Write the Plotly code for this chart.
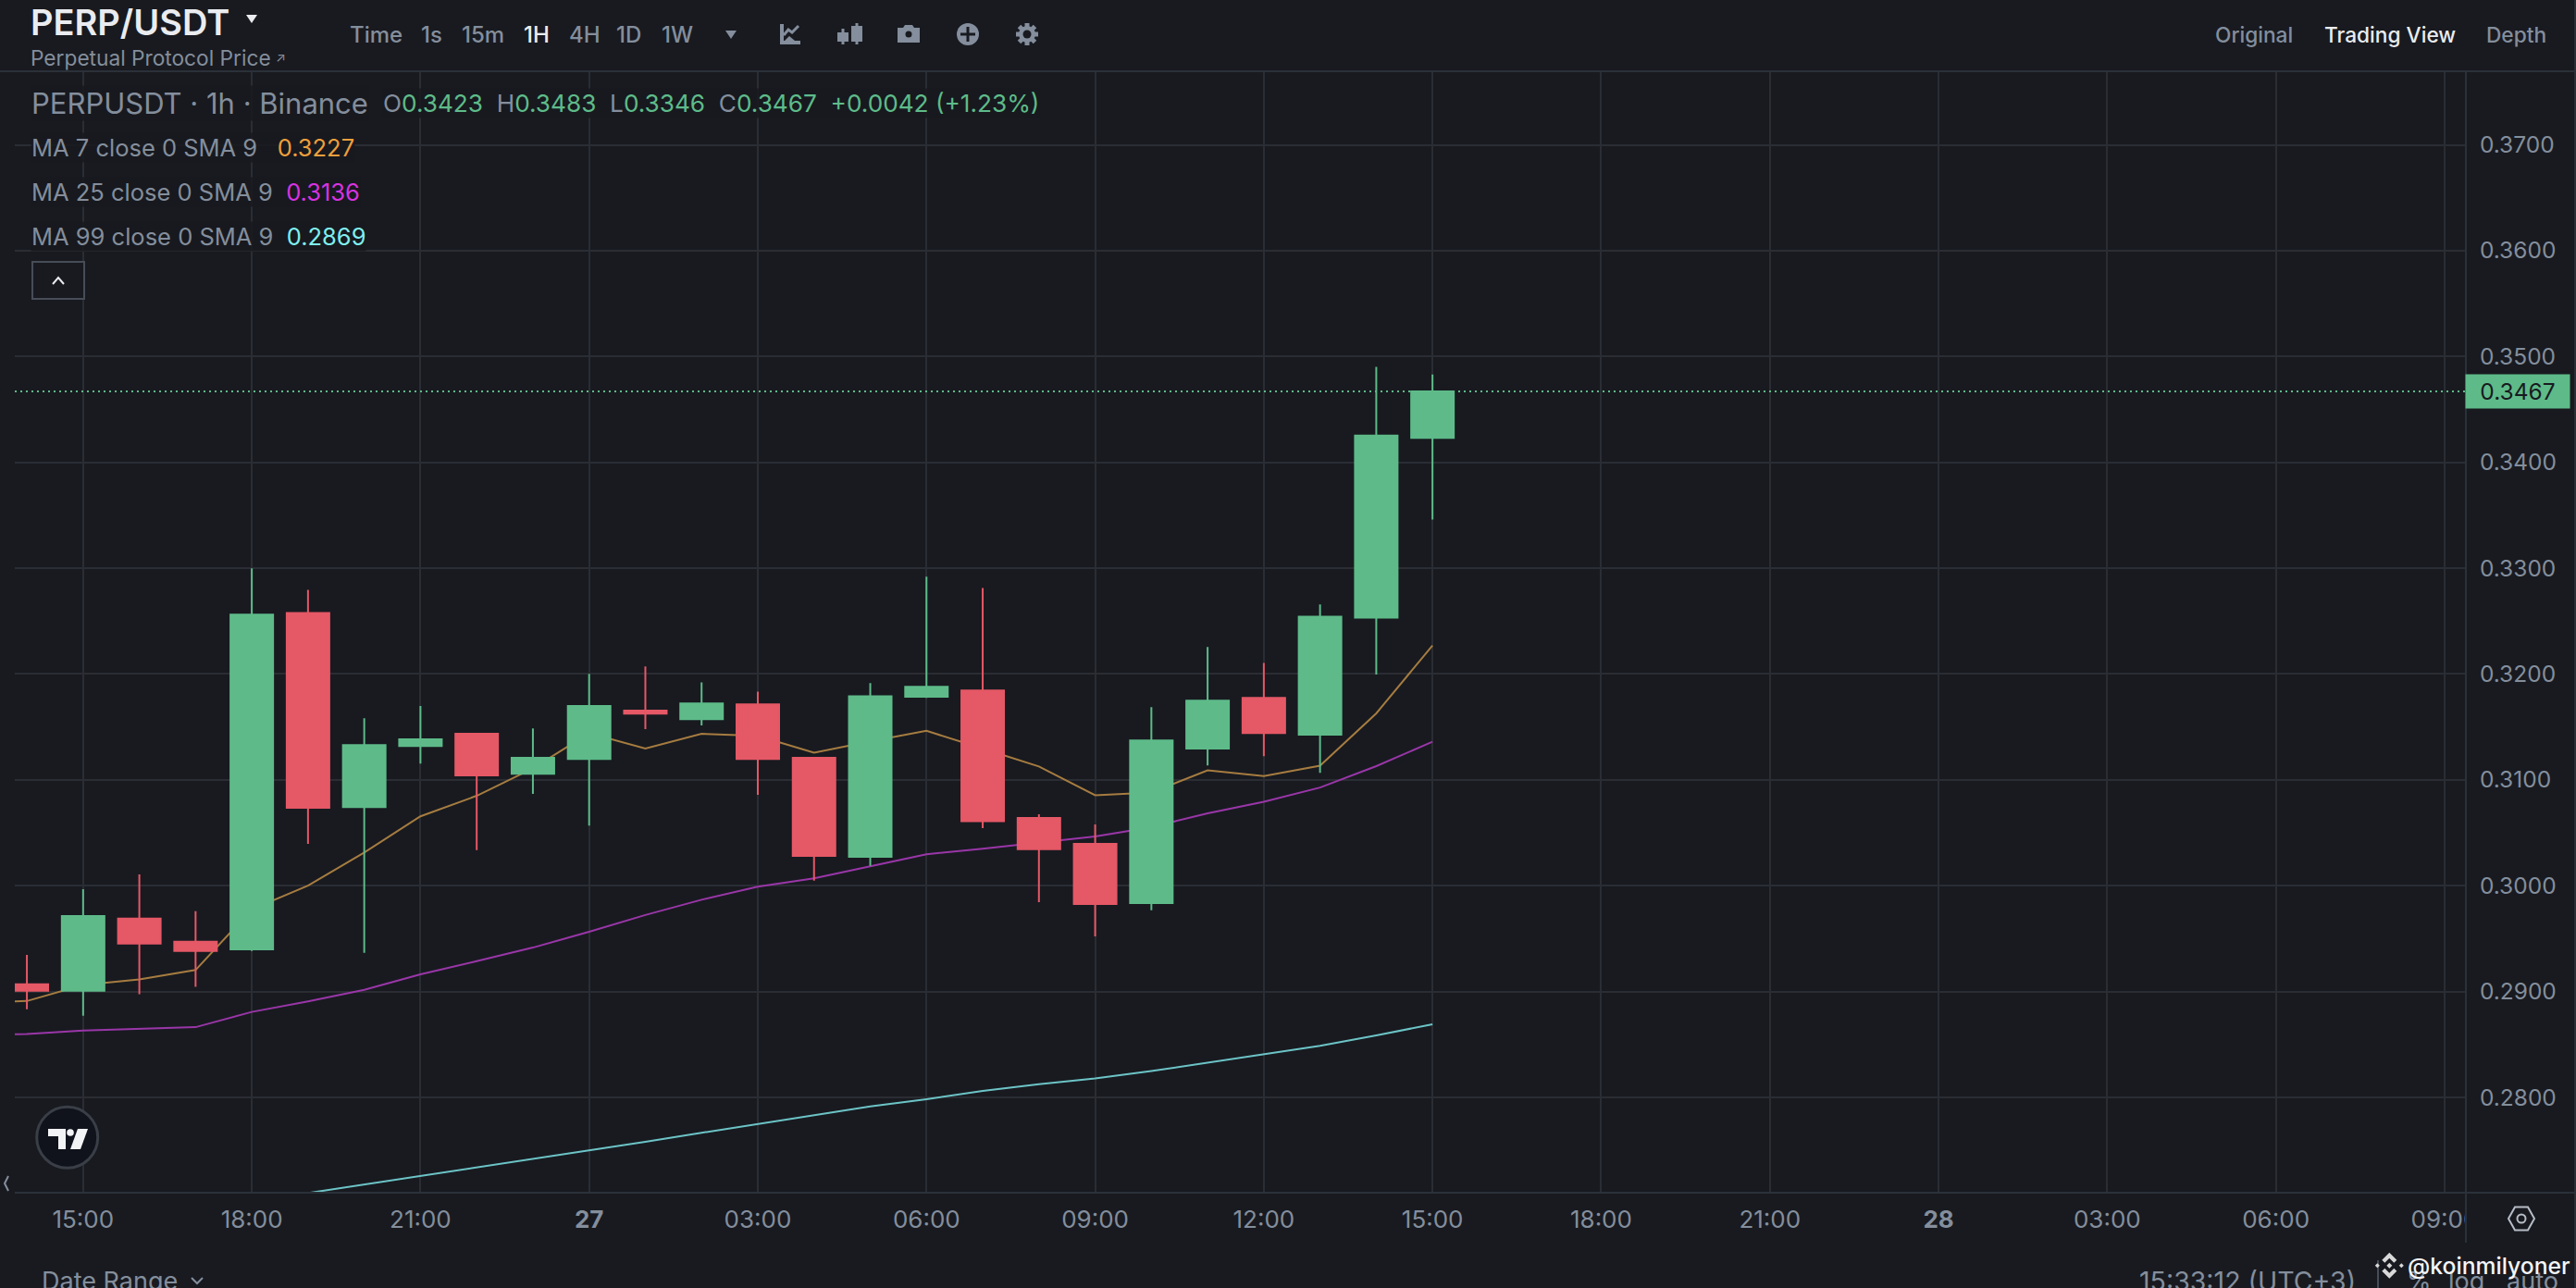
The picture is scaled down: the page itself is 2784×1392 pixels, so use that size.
import plotly.graph_objects as go

# ============================================================
# DATA (hours counted from 00:00 on the 26th)
# ============================================================

candle_hours = list(range(14, 40))
opens = [0.29069, 0.29006, 0.29689, 0.29471, 0.29399, 0.32576, 0.30743, 0.3132, 0.31435,
         0.31058, 0.31198, 0.31653, 0.31572, 0.31712, 0.31207, 0.30272, 0.31784, 0.31843,
         0.3064, 0.30394, 0.29836, 0.31295, 0.31775, 0.31426, 0.32532, 0.3423]
highs = [0.29346, 0.29966, 0.30107, 0.29758, 0.32997, 0.32794, 0.31581, 0.31697, 0.31435,
         0.31485, 0.32002, 0.32071, 0.31921, 0.31834, 0.31207, 0.31915, 0.32919, 0.32813,
         0.30674, 0.30578, 0.31687, 0.32255, 0.32105, 0.32657, 0.34901, 0.3483]
lows = [0.28832, 0.28772, 0.28975, 0.29044, 0.29383, 0.30394, 0.29365, 0.31154, 0.30337,
        0.30867, 0.30568, 0.31479, 0.31513, 0.30858, 0.30048, 0.30188, 0.31775, 0.30543,
        0.29845, 0.29521, 0.29767, 0.31136, 0.31223, 0.31067, 0.31995, 0.3346]
closes = [0.29006, 0.29714, 0.29452, 0.29383, 0.3256, 0.30737, 0.31329, 0.31382, 0.31042,
          0.31207, 0.31697, 0.31625, 0.31722, 0.31198, 0.30281, 0.3179, 0.31878, 0.30609,
          0.30344, 0.29826, 0.31373, 0.31747, 0.31441, 0.32542, 0.34253, 0.3467]

ma_hours = list(range(13, 40))
ma7 = [0.28897, 0.2891, 0.29062, 0.29115, 0.29203, 0.29776, 0.30001, 0.30313, 0.30655,
       0.30849, 0.31108, 0.31441, 0.31295, 0.31435, 0.31416, 0.31257, 0.31363, 0.31463,
       0.31295, 0.31126, 0.30855, 0.3088, 0.31089, 0.31036, 0.31133, 0.31628, 0.3227]
ma25 = [0.28585, 0.28598, 0.28632, 0.28648, 0.28663, 0.28807, 0.28906, 0.29016, 0.29162,
        0.29287, 0.29415, 0.29564, 0.29723, 0.29867, 0.29991, 0.30069, 0.30185, 0.30297,
        0.3035, 0.30406, 0.30465, 0.30553, 0.30684, 0.30793, 0.30927, 0.31129, 0.3136]

ma99_hours = list(range(18, 40))
ma99 = [0.27015, 0.27095, 0.27175, 0.27254, 0.27335, 0.27415, 0.27496, 0.2758, 0.27665,
        0.27749, 0.2783, 0.27915, 0.27983, 0.28061, 0.28125, 0.28178, 0.28248, 0.28327,
        0.28408, 0.28487, 0.28586, 0.2869]

x_ticks = list(range(15, 58, 3))
x_labels = ["15:00", "18:00", "21:00", "<b>27</b>", "03:00", "06:00", "09:00", "12:00", "15:00",
            "18:00", "21:00", "<b>28</b>", "03:00", "06:00", "09:00"]
y_ticks = [0.28, 0.29, 0.30, 0.31, 0.32, 0.33, 0.34, 0.35, 0.36, 0.37]
y_labels = ["0.2800", "0.2900", "0.3000", "0.3100", "0.3200", "0.3300", "0.3400", "0.3500", "0.3600", "0.3700"]

last_price = 0.3467

# ============================================================
# COLOURS AND PIXEL HELPERS
# ============================================================

W, H = 2784, 1392
BG = "#181A20"
GRID = "#2A2D33"
BORDER = "#2B3139"
GREEN = "#5EBB89"
RED = "#E55866"
GREY = "#848E9C"
FONT = "Inter"

X_RANGE = [13.785, 57.38]
Y_RANGE = [0.27099, 0.37695]


def fx(x):
    return x / W


def fy(y):
    return 1 - y / H


shapes = []
annotations = []


def txt(x, y, s, size=24, color=GREY, anchor="left", weight=400, bg=None):
    annotations.append(dict(x=fx(x), y=fy(y), xref="paper", yref="paper", text=s, showarrow=False,
                            xanchor=anchor, yanchor="middle", align="left", borderpad=0,
                            bgcolor=bg, font=dict(family=FONT, size=size, color=color, weight=weight)))


def line(x0, y0, x1, y1, color=BORDER, width=2):
    shapes.append(dict(type="line", xref="paper", yref="paper", x0=fx(x0), y0=fy(y0), x1=fx(x1), y1=fy(y1),
                       line=dict(color=color, width=width), layer="above"))


def rect(x0, y0, x1, y1, fill=BG, color=None, width=0):
    shapes.append(dict(type="rect", xref="paper", yref="paper", x0=fx(x0), y0=fy(y0), x1=fx(x1), y1=fy(y1),
                       fillcolor=fill, line=dict(color=color or fill, width=width), layer="above"))


def circle(cx, cy, r, fill=BG, color=None, width=0):
    shapes.append(dict(type="circle", xref="paper", yref="paper", x0=fx(cx - r), y0=fy(cy - r),
                       x1=fx(cx + r), y1=fy(cy + r), fillcolor=fill,
                       line=dict(color=color or fill, width=width), layer="above"))


def poly(points, fill=GREY, color=None, width=0, closed=True):
    d = "M" + " L".join(f"{fx(a):.6f},{fy(b):.6f}" for a, b in points) + (" Z" if closed else "")
    shapes.append(dict(type="path", xref="paper", yref="paper", path=d, fillcolor=fill if closed else None,
                       line=dict(color=color or fill, width=width), layer="above"))


# ============================================================
# TRACES
# ============================================================

fig = go.Figure()

# moving averages live on the lower subplot so that candles cover them
fig.add_trace(go.Scatter(x=ma_hours, y=ma7, mode="lines", line=dict(color="#A67C40", width=2)))
fig.add_trace(go.Scatter(x=ma_hours, y=ma25, mode="lines", line=dict(color="#9A36A8", width=2)))
fig.add_trace(go.Scatter(x=ma99_hours, y=ma99, mode="lines", line=dict(color="#6CC4C6", width=2)))

fig.add_trace(go.Candlestick(
    x=candle_hours, open=opens, high=highs, low=lows, close=closes,
    xaxis="x2", yaxis="y2",
    increasing=dict(fillcolor=GREEN, line=dict(color=GREEN, width=2)),
    decreasing=dict(fillcolor=RED, line=dict(color=RED, width=2)),
))

fig.add_trace(go.Scatter(x=X_RANGE, y=[last_price, last_price], mode="lines", xaxis="x2", yaxis="y2",
                         line=dict(color=GREEN, width=2, dash="2px,4px")))

# ============================================================
# CHROME
# ============================================================

line(0, 77, W, 77)
line(16, 1289, W, 1289)
rect(2666, 1290, W, 1343)
line(2665, 77, 2665, 1343)
line(2783, 0, 2783, H, color="#2B2F36")

# header
txt(32, 24, "PERP/USDT", size=38, color="#EAECEF", weight=600)
poly([(266, 16), (278, 16), (272, 25)], fill="#EAECEF")
txt(32, 63, "Perpetual Protocol Price", size=22.7)
txt(297, 61, "↗", size=14)

for x_txt, label, col in [(377, "Time", GREY), (454, "1s", GREY), (498, "15m", GREY), (565, "1H", "#EAECEF"),
                          (614, "4H", GREY), (665, "1D", GREY), (714, "1W", GREY)]:
    txt(x_txt, 38, label, size=24, color=col, weight=500)
poly([(784, 33), (796, 33), (790, 42)])

# toolbar icons
rect(843, 26, 847, 48, fill=GREY)
rect(843, 44, 865, 48, fill=GREY)
poly([(847, 38), (852, 32), (856, 35), (863, 28)], fill=None, color=GREY, width=3, closed=False)
poly([(853, 39), (859, 44), (848, 44)])
line(911, 31, 911, 48, color=GREY, width=3)
rect(905, 35, 917, 45, fill=GREY)
line(926, 25, 926, 48, color=GREY, width=3)
rect(920, 28, 932, 45, fill=GREY)
poly([(970, 30), (976, 30), (978, 27), (986, 27), (988, 30), (994, 30), (994, 46), (970, 46)])
circle(982, 37, 3.5, fill=BG)
circle(1046, 37, 12, fill=GREY)
rect(1038, 35.5, 1054, 38.5, fill=BG)
rect(1044.5, 29, 1047.5, 45, fill=BG)
for dx, dy in [(12, 0), (8.5, 8.5), (0, 12), (-8.5, 8.5)]:
    line(1110 - dx, 37 - dy, 1110 + dx, 37 + dy, color=GREY, width=5)
circle(1110, 37, 9, fill=GREY)
circle(1110, 37, 4.5, fill=BG)

txt(2393, 38, "Original", size=22.7, weight=500)
txt(2511, 38, "Trading View", size=22.7, color="#EAECEF", weight=500)
txt(2686, 38, "Depth", size=22.7, weight=500)

# legend rows
LEGEND_BG = "rgba(24,26,32,0.85)"
txt(33, 111, "PERPUSDT · 1h · Binance", size=31, bg=LEGEND_BG)
v = f'<span style="color:{GREEN}">'
txt(413, 111, f"O{v}0.3423</span>  H{v}0.3483</span>  L{v}0.3346</span>  C{v}0.3467</span>  {v}+0.0042 (+1.23%)</span>",
    size=26.2, bg=LEGEND_BG)
txt(33, 159, 'MA 7 close 0 SMA 9   <span style="color:#EE9F3C">0.3227</span>', size=25.5, bg=LEGEND_BG)
txt(33, 207, 'MA 25 close 0 SMA 9  <span style="color:#D733E0">0.3136</span>', size=25.5, bg=LEGEND_BG)
txt(33, 255, 'MA 99 close 0 SMA 9  <span style="color:#7FEFEF">0.2869</span>', size=25.5, bg=LEGEND_BG)

rect(35, 283, 91, 323, fill=BG, color="#474D57", width=2)
poly([(57, 307), (63, 300), (69, 307)], fill=None, color="#EAECEF", width=2, closed=False)

# tradingview badge
circle(72.7, 1229.3, 33, fill="#10131C", color="#3A3F47", width=3)
poly([(52, 1220), (71, 1220), (71, 1242), (63, 1242), (63, 1228), (52, 1228)], fill="#F2F3F5")
circle(76, 1224, 3.8, fill="#F2F3F5")
poly([(84, 1220), (95, 1220), (87, 1242), (76, 1242)], fill="#F2F3F5")
poly([(9, 1271), (5, 1279), (9, 1287)], fill=None, color=GREY, width=2, closed=False)

# price tag
annotations.append(dict(xref="paper", yref="y", x=fx(2664), y=last_price, text="0.3467", showarrow=False,
                        xanchor="left", yanchor="middle", width=110, height=34, align="center",
                        bgcolor=GREEN, font=dict(family=FONT, size=24.5, color="#181A20")))

# bottom bar
poly([(2711, 1317), (2718, 1304.5), (2732, 1304.5), (2739, 1317), (2732, 1329.5), (2718, 1329.5)],
     fill=None, color="#B7BDC6", width=2)
circle(2725, 1317, 4.5, fill=BG, color="#B7BDC6", width=2)

txt(44, 1384, "Date Range", size=27)
poly([(207, 1381), (213, 1387), (219, 1381)], fill=None, color=GREY, width=2, closed=False)
txt(2311, 1384, "15:33:12 (UTC+3)", size=28.5)
line(2570, 1362, 2570, H, color="#474D57")
txt(2600, 1384, "%", size=27)
txt(2645, 1384, "log", size=27)
txt(2708, 1384, "auto", size=27)

# watermark
D = "#D9D9D9"
cx, cy = 2582.3, 1367.7
poly([(cx, cy - 14), (cx + 8, cy - 6), (cx + 5, cy - 3), (cx, cy - 8), (cx - 5, cy - 3), (cx - 8, cy - 6)], fill=D)
poly([(cx, cy + 14), (cx + 8, cy + 6), (cx + 5, cy + 3), (cx, cy + 8), (cx - 5, cy + 3), (cx - 8, cy + 6)], fill=D)
poly([(cx, cy - 3), (cx + 3, cy), (cx, cy + 3), (cx - 3, cy)], fill=D)
poly([(cx - 13, cy - 2.5), (cx - 10.5, cy), (cx - 13, cy + 2.5), (cx - 15.5, cy)], fill=D)
poly([(cx + 13, cy - 2.5), (cx + 15.5, cy), (cx + 13, cy + 2.5), (cx + 10.5, cy)], fill=D)
txt(2601, 1368, "@koinmilyoner", size=24.7, color="#F5F5F5", weight=500)

# ============================================================
# LAYOUT
# ============================================================

x_domain = [fx(16), fx(2665)]
y_domain = [fy(1289), fy(77)]

fig.update_layout(
    width=W, height=H,
    margin=dict(l=0, r=0, t=0, b=0),
    paper_bgcolor=BG, plot_bgcolor=BG,
    showlegend=False,
    hovermode=False,
    boxgap=0.243,
    boxgroupgap=0,
    shapes=shapes,
    annotations=annotations,
    xaxis=dict(domain=x_domain, range=X_RANGE, tickmode="array", tickvals=x_ticks, ticktext=x_labels,
               automargin=False, showgrid=True, gridcolor=GRID, gridwidth=2, zeroline=False, showline=False,
               ticks="outside", ticklen=6, tickcolor="rgba(0,0,0,0)",
               tickfont=dict(family=FONT, size=26, color=GREY)),
    yaxis=dict(domain=y_domain, range=Y_RANGE, side="right", tickmode="array", tickvals=y_ticks, ticktext=y_labels,
               automargin=False, showgrid=True, gridcolor=GRID, gridwidth=2, zeroline=False, showline=False,
               ticks="outside", ticklen=9, tickcolor="rgba(0,0,0,0)",
               tickfont=dict(family=FONT, size=24.5, color=GREY)),
    xaxis2=dict(domain=x_domain, range=X_RANGE, overlaying="x", visible=False, automargin=False,
                rangeslider=dict(visible=False)),
    yaxis2=dict(domain=y_domain, range=Y_RANGE, overlaying="y", visible=False, automargin=False),
)

# the page's default body margin would push the figure off by 8px
fig.write_html("out.html", config={"displayModeBar": False},
               post_script="document.body.style.margin='0';document.documentElement.style.overflow='hidden';")
